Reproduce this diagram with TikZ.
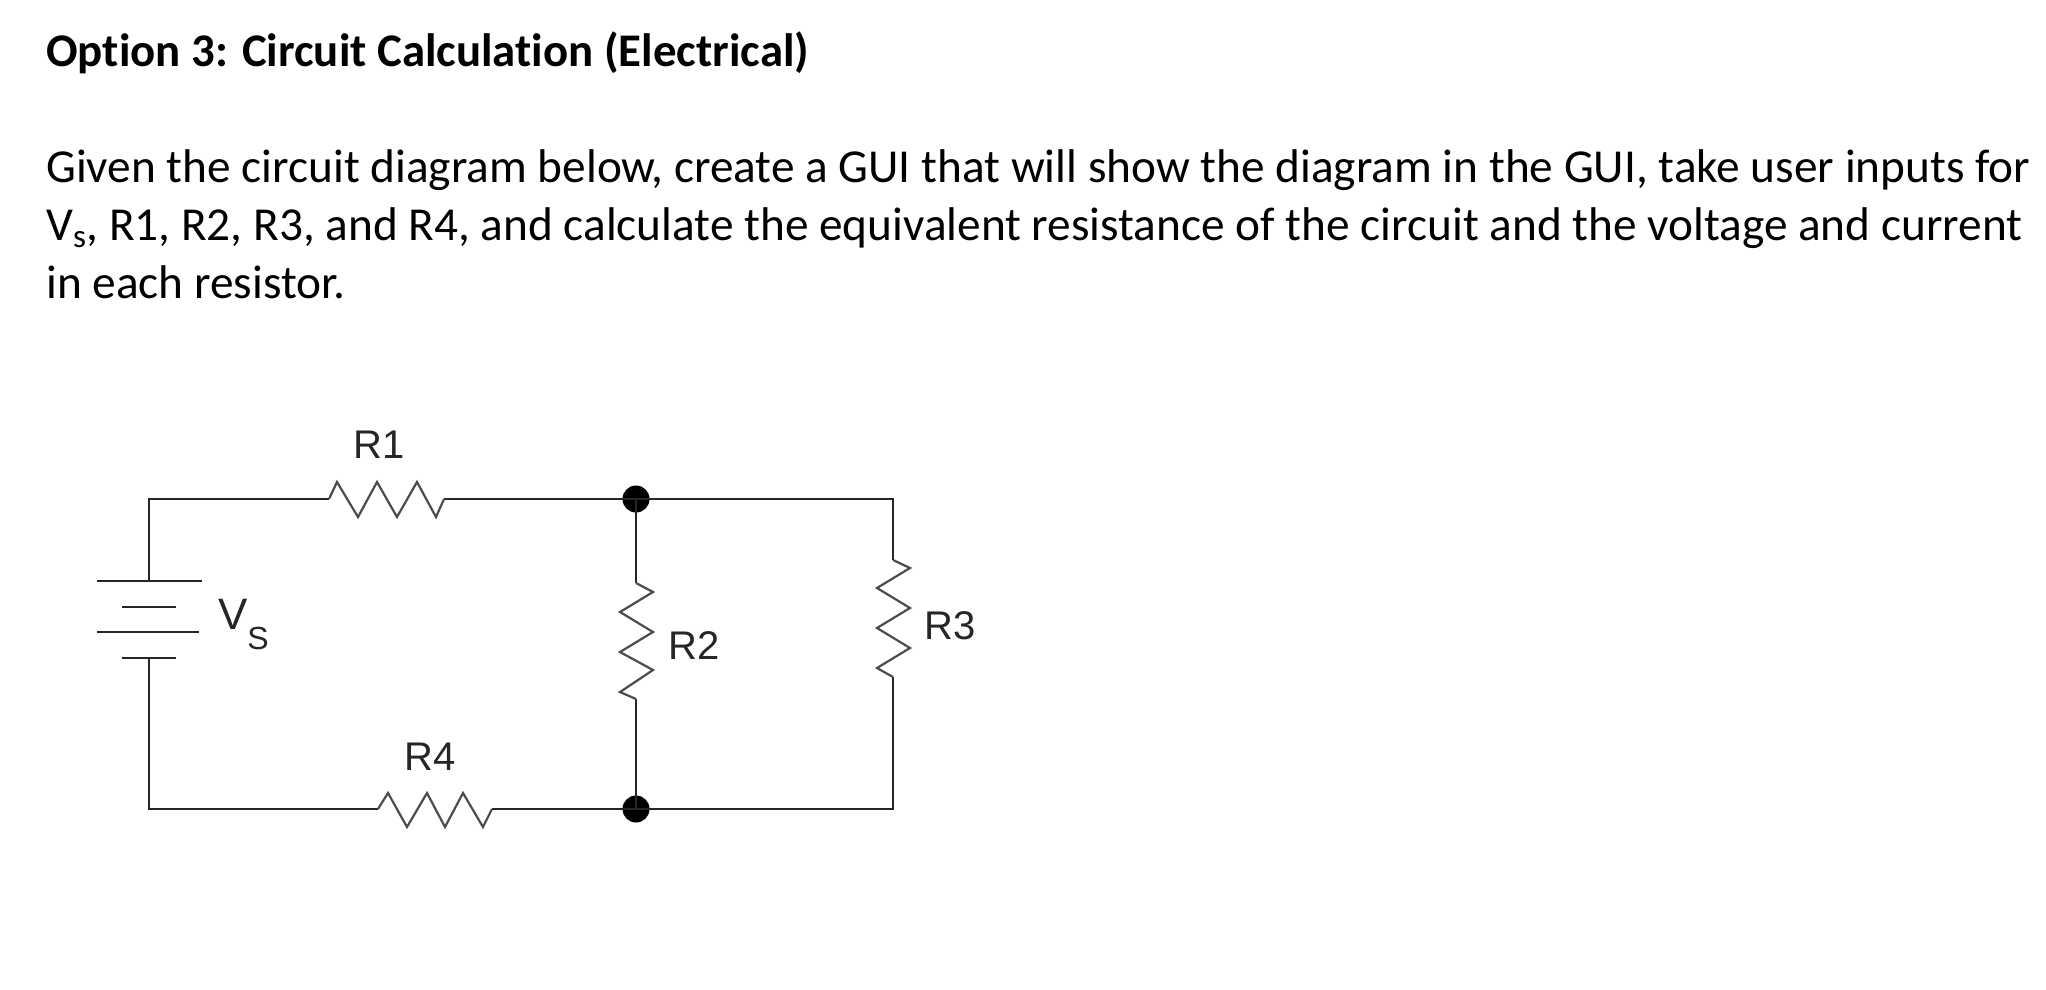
\documentclass[tikz,border=0pt]{standalone}
\usepackage{fontspec}
\setmainfont[Ligatures=NoCommon]{Carlito}
\newfontfamily\lab{Liberation Sans}
\begin{document}
\begin{tikzpicture}[x=1pt,y=-1pt,
  wire/.style={line width=2.6pt,black!85},
  zig/.style={line width=2.2pt,black!70,line join=miter},
  body/.style={anchor=base west,inner sep=0pt,font=\fontsize{47.3}{54}\selectfont},
  lbl/.style={inner sep=0pt,font=\lab\fontsize{40}{40}\selectfont,text=black!85},
  dot/.style={circle,fill=black,inner sep=0pt,minimum size=27pt}]
\useasboundingbox (0,0) rectangle (2046,989);
\node[body,font=\bfseries\fontsize{46.8}{54}\selectfont] (title) at (46,66) {Option 3: Circuit Calculation (Electrical)};
\node[body] (l1) at (46,182) {Given the circuit diagram below, create a GUI that will show the diagram in the GUI, take user inputs for};
\node[body] (l2) at (46,240) {V\textsubscript{s}, R1, R2, R3, and R4, and calculate the equivalent resistance of the circuit and the voltage and current};
\node[body] (l3) at (46,298) {in each resistor.};
% coordinates
\coordinate (tl) at (149,499);
\coordinate (bl) at (149,809);
\coordinate (bt) at (149,581);
\coordinate (bb) at (149,658);
\coordinate (r1a) at (329,499); \coordinate (r1b) at (444,499);
\coordinate (r4a) at (378,809); \coordinate (r4b) at (492,809);
\node[dot] (jt) at (636,499) {};
\node[dot] (jb) at (636,809) {};
\coordinate (r2a) at (636,583); \coordinate (r2b) at (636,699);
\coordinate (tr) at (893,499); \coordinate (br) at (893,809);
\coordinate (r3a) at (893,560); \coordinate (r3b) at (893,677);
% wires
\draw[wire] (bt) -- (tl) -- (r1a);
\draw[wire] (r1b) -- (jt.center) -- (tr) -- (r3a);
\draw[wire] (r3b) -- (br) -- (jb.center) -- (r4b);
\draw[wire] (r4a) -- (bl) -- (bb);
\draw[wire] (jt.center) -- (r2a);
\draw[wire] (r2b) -- (jb.center);
% battery
\draw[wire] (97,581) -- (202,581);
\draw[wire] (122,607) -- (176,607);
\draw[wire] (97,632) -- (199,632);
\draw[wire] (122,658) -- (176,658);
% resistors
\draw[zig] (r1a) -- (337,482) -- (358,517) -- (377,482) -- (397,517) -- (417,482) -- (436,517) -- (r1b);
\draw[zig] (r4a) -- (388,793) -- (407,827) -- (427,793) -- (445,827) -- (463,793) -- (483,827) -- (r4b);
\draw[zig] (r2a) -- (653,592) -- (620,612) -- (653,632) -- (620,652) -- (653,670) -- (620,692) -- (r2b);
\draw[zig] (r3a) -- (910,568) -- (877,588) -- (910,608) -- (877,628) -- (910,648) -- (877,668) -- (r3b);
% labels
\node[lbl] (R1) at (379,445) {R1};
\node[lbl] (R4) at (430,757) {R4};
\node[lbl] (R2) at (694,646) {R2};
\node[lbl] (R3) at (950,626) {R3};
\node[lbl,font=\lab\fontsize{44}{44}\selectfont] (V) at (233,614) {V};
\node[lbl,font=\lab\fontsize{32}{32}\selectfont] (S) at (258,638) {S};
\end{tikzpicture}
\end{document}
